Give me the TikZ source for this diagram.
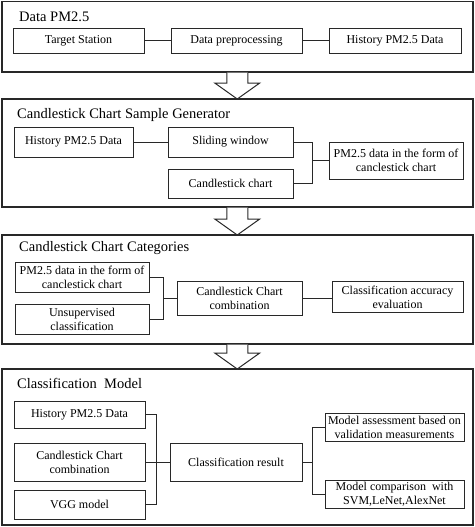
\documentclass[tikz,border=0pt]{standalone}
\usepackage{fontspec}
\setmainfont{Liberation Serif}
\usepackage{tikz}
\usetikzlibrary{calc}
\definecolor{lineg}{RGB}{40,40,40}
\tikzset{
  % outer panel
  panel/.style={
    draw=lineg,
    line width=1.5pt,
    anchor=north west,
    inner sep=0pt,
    minimum width=471pt
  },
  % panel title
  ttl/.style={anchor=west, inner sep=0pt, font=\fontsize{14.5}{16}\selectfont},
  % inner box
  box/.style={
    draw=lineg,
    line width=0.8pt,
    align=center,
    inner sep=1pt,
    font=\fontsize{12}{14}\selectfont
  },
  % connector
  link/.style={draw=lineg, line width=0.8pt},
  % hollow arrow between panels
  bigarr/.style={draw=lineg, line width=1pt, fill=white},
}

\begin{document}
\begin{tikzpicture}[x=1pt, y=1pt]
    \useasboundingbox (0,0) rectangle (474,-527);

    % Panels
    \node[panel, minimum height=70pt]  (pA) at (1,-1) {};
    \node[panel, minimum height=108pt] (pB) at (1,-98) {};
    \node[panel, minimum height=109pt] (pC) at (1,-234) {};
    \node[panel, minimum height=156pt] (pD) at (1,-368) {};

    % Arrows between panels
    \foreach \a/\b in {pA/pB, pB/pC, pC/pD}
        \draw[bigarr] ([xshift=-10.5pt]\a.south)
            -- ([xshift=-10.5pt, yshift=15pt]\b.north)
            -- ([xshift=-22.5pt, yshift=15pt]\b.north)
            -- ([yshift=-1pt]\b.north)
            -- ([xshift=22.5pt, yshift=15pt]\b.north)
            -- ([xshift=10.5pt, yshift=15pt]\b.north)
            -- ([xshift=10.5pt]\a.south);

    % Data PM2.5
    \node[ttl] (tA) at (19,-17) {Data PM2.5};
    \node[box, minimum width=131pt, minimum height=25pt] (tgt)  at (78.5,-40.5)  {Target Station};
    \node[box, minimum width=131pt, minimum height=25pt] (prep) at (236.5,-40.5) {Data preprocessing};
    \node[box, minimum width=132pt, minimum height=25pt] (hist) at (395,-40.5)   {History PM2.5 Data};
    \draw[link] (tgt) -- (prep);
    \draw[link] (prep) -- (hist);

    % Candlestick Chart Sample Generator
    \node[ttl] (tB) at (17,-115) {Candlestick Chart Sample Generator};
    \node[box, minimum width=119pt, minimum height=30pt] (histB)  at (73.5,-142)  {History PM2.5 Data};
    \node[box, minimum width=125pt, minimum height=30pt] (slide)  at (230.5,-142) {Sliding window};
    \node[box, minimum width=125pt, minimum height=29pt] (candle) at (230.5,-183.5) {Candlestick chart};
    \node[box, minimum width=134pt, minimum height=37pt] (formB)  at (396,-160.5) {PM2.5 data in the form of\\canclestick chart};
    \coordinate (jB) at (312,-160.5);
    \draw[link] (histB) -- (slide);
    \draw[link] (slide.east) -| (jB);
    \draw[link] (candle.east) -| (jB);
    \draw[link] (jB) -- (formB.west);

    % Candlestick Chart Categories
    \node[ttl] (tC) at (19,-248) {Candlestick Chart Categories};
    \node[box, minimum width=134pt, minimum height=30pt] (formC) at (82,-277) {PM2.5 data in the form of\\canclestick chart};
    \node[box, minimum width=134pt, minimum height=30pt] (unsup) at (82,-319) {Unsupervised\\classification};
    \node[box, minimum width=125pt, minimum height=34pt] (comb)  at (239.5,-298) {Candlestick Chart\\combination};
    \node[box, minimum width=131pt, minimum height=31pt] (acc)   at (397.5,-297) {Classification accuracy\\evaluation};
    \coordinate (jC) at (163,-298);
    \draw[link] (formC.east) -| (jC);
    \draw[link] (unsup.east) -| (jC);
    \draw[link] (jC) -- (comb.west);
    \draw[link] (comb.east) -- (comb.east -| acc.west);

    % Classification Model
    \node[ttl] (tD) at (17,-383) {Classification\ \ Model};
    \node[box, minimum width=131pt, minimum height=27pt] (histD)  at (79.5,-414.5) {History PM2.5 Data};
    \node[box, minimum width=131pt, minimum height=38pt] (combD)  at (79.5,-462)   {Candlestick Chart\\combination};
    \node[box, minimum width=131pt, minimum height=29pt] (vgg)    at (79.5,-504.5) {VGG model};
    \node[box, minimum width=132pt, minimum height=38pt] (result) at (236,-462)    {Classification result};
    \node[box, minimum width=139pt, minimum height=28pt] (assess) at (394.5,-427)  {Model assessment based on\\validation measurements};
    \node[box, minimum width=139pt, minimum height=28pt] (compar) at (394.5,-494)  {Model comparison\ \ with\\SVM,LeNet,AlexNet};
    \coordinate (jL) at (156,-462);
    \coordinate (jR) at (312,-462);
    \draw[link] (histD.east) -| (jL);
    \draw[link] (vgg.east) -| (jL);
    \draw[link] (combD.east) -- (result.west);
    \draw[link] (result.east) -- (jR);
    \draw[link] (assess.west) -| (jR);
    \draw[link] (compar.west) -| (jR);
\end{tikzpicture}
\end{document}
